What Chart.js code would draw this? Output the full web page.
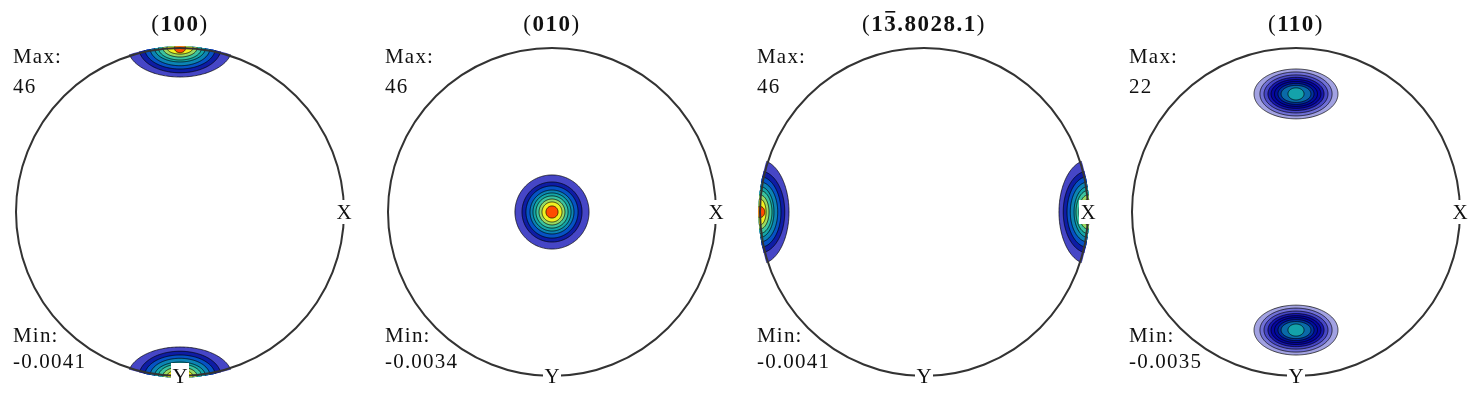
<!DOCTYPE html>
<html>
<head>
<meta charset="utf-8">
<script src="https://cdn.jsdelivr.net/npm/chart.js@4/dist/chart.umd.min.js"></script>
<style>
  html, body { margin: 0; padding: 0; background: #fff; overflow: hidden; }
  .panel { position: absolute; top: 0; width: 372px; height: 398px; }
</style>
</head>
<body>
<div class="panel" style="left:0px"><canvas id="pf0" width="372" height="398"></canvas></div>
<div class="panel" style="left:372px"><canvas id="pf1" width="372" height="398"></canvas></div>
<div class="panel" style="left:744px"><canvas id="pf2" width="372" height="398"></canvas></div>
<div class="panel" style="left:1116px"><canvas id="pf3" width="372" height="398"></canvas></div>
<script>
// pole figure titles (Miller indices), bar = overlined digit
const titles = [
  [{ t: '100' }],
  [{ t: '010' }],
  [{ t: '1' }, { t: '3', bar: true }, { t: '.8028.1' }],
  [{ t: '110' }]
];
const maxLabels = ['46', '46', '46', '22'];
const minLabels = ['-0.0041', '-0.0034', '-0.0041', '-0.0035'];

// peak positions on the unit disk (x right, y up)
const poleCenters = [
  [[0, 1], [0, -1]],
  [[0, 0]],
  [[-1, 0], [1, 0]],
  [[0, 0.72], [0, -0.72]]
];

// contour half-axes, outermost level first
const radiiX = [
  [0.317, 0.25, 0.216, 0.183, 0.155, 0.131, 0.104, 0.079, 0.034],
  [0.226, 0.183, 0.159, 0.134, 0.116, 0.098, 0.079, 0.061, 0.037],
  [0.177, 0.151, 0.128, 0.108, 0.085, 0.073, 0.055, 0.037, 0.029],
  [0.256, 0.22, 0.195, 0.171, 0.152, 0.131, 0.11, 0.091, 0.049]
];
const radiiY = [
  [0.177, 0.151, 0.128, 0.108, 0.085, 0.073, 0.055, 0.037, 0.029],
  [0.226, 0.183, 0.159, 0.134, 0.116, 0.098, 0.079, 0.061, 0.037],
  [0.317, 0.25, 0.216, 0.183, 0.155, 0.131, 0.104, 0.079, 0.034],
  [0.152, 0.134, 0.116, 0.101, 0.088, 0.076, 0.064, 0.052, 0.037]
];

const hotLevels = ['#4646c6', '#0e1ca4', '#0652c4', '#0c84b4', '#14a6a8', '#3cc4a0', '#9ada62', '#f2f020', '#ff4c00'];
const coolLevels = ['#a2a2e2', '#7070d6', '#4646c6', '#1616ae', '#0606a0', '#000e9c', '#00329e', '#0a6aa8', '#14a2aa'];
const panelLevels = [hotLevels, hotLevels, hotLevels, coolLevels];

const R = 164, CX = 180, CY = 212, SPAN = 1.06;
const serif = '"Liberation Serif", "Times New Roman", serif';

function ellipse(cx, cy, rx, ry) {
  const pts = [];
  const n = 120;
  for (let i = 0; i <= n; i++) {
    const a = i / n * 2 * Math.PI;
    pts.push({ x: cx + rx * Math.cos(a), y: cy + ry * Math.sin(a) });
  }
  return pts;
}

function drawTitle(ctx, parts, cx, y) {
  const pieces = [{ t: '(', f: `23px ${serif}` }]
    .concat(parts.map(p => ({ t: p.t, f: `bold 23px ${serif}`, bar: p.bar })))
    .concat([{ t: ')', f: `23px ${serif}` }]);
  ctx.letterSpacing = '1.5px';
  let w = 0;
  pieces.forEach(p => { ctx.font = p.f; p.w = ctx.measureText(p.t).width; w += p.w; });
  let x = cx - w / 2;
  ctx.textAlign = 'left';
  pieces.forEach(p => {
    ctx.font = p.f;
    ctx.fillText(p.t, x, y);
    if (p.bar) ctx.fillRect(x + 1, y - 20, p.w - 3, 1.6);
    x += p.w;
  });
}

const polePlugin = {
  id: 'pole',
  beforeDatasetsDraw(chart) {
    const { ctx, scales: { x, y } } = chart;
    const cx = x.getPixelForValue(0), cy = y.getPixelForValue(0);
    const r = x.getPixelForValue(1) - cx;
    ctx.save();
    ctx.beginPath();
    ctx.arc(cx, cy, r * 1.01, 0, 2 * Math.PI);
    ctx.clip();
  },
  afterDatasetsDraw(chart, args, opts) {
    const { ctx, scales: { x, y } } = chart;
    ctx.restore();
    const cx = x.getPixelForValue(0), cy = y.getPixelForValue(0);
    const r = x.getPixelForValue(1) - cx;

    ctx.save();
    ctx.beginPath();
    ctx.arc(cx, cy, r, 0, 2 * Math.PI);
    ctx.strokeStyle = '#333333';
    ctx.lineWidth = 2;
    ctx.stroke();

    // axis labels on white boxes
    ctx.fillStyle = '#fff';
    ctx.fillRect(cx + r - 9, cy - 12, 18, 24);
    ctx.fillRect(cx - 9, cy + r - 13, 18, 24);
    ctx.fillStyle = '#111';
    ctx.font = `21px ${serif}`;
    ctx.textAlign = 'center';
    ctx.textBaseline = 'middle';
    ctx.fillText('X', cx + r, cy + 1);
    ctx.fillText('Y', cx, cy + r + 1);

    ctx.textBaseline = 'alphabetic';
    drawTitle(ctx, opts.title, cx, cy - 181);

    ctx.font = `21px ${serif}`;
    ctx.letterSpacing = '1.2px';
    ctx.textAlign = 'left';
    const lx = cx - r - 3;
    ctx.fillText('Max:', lx, cy - 149);
    ctx.fillText(opts.max, lx, cy - 119);
    ctx.fillText('Min:', lx, cy + 130);
    ctx.fillText(opts.min, lx, cy + 156);
    ctx.restore();
  }
};

titles.forEach((title, p) => {
  const levels = panelLevels[p];
  const datasets = [];
  poleCenters[p].forEach(([px, py]) => {
    levels.forEach((color, k) => {
      datasets.push({
        data: ellipse(px, py, radiiX[p][k], radiiY[p][k]),
        showLine: true,
        fill: 'shape',
        backgroundColor: color,
        borderColor: '#000',
        borderWidth: 0.7,
        pointRadius: 0,
        tension: 0.2,
        order: levels.length - k,
        clip: 12
      });
    });
  });

  const half = R * SPAN;
  new Chart(document.getElementById('pf' + p), {
    type: 'scatter',
    data: { datasets },
    options: {
      responsive: false,
      animation: false,
      events: [],
      layout: {
        padding: { left: CX - half, right: 372 - CX - half, top: CY - half, bottom: 398 - CY - half }
      },
      scales: {
        x: { type: 'linear', min: -SPAN, max: SPAN, display: false },
        y: { type: 'linear', min: -SPAN, max: SPAN, display: false }
      },
      plugins: {
        legend: { display: false },
        tooltip: { enabled: false },
        pole: { title, max: maxLabels[p], min: minLabels[p] }
      }
    },
    plugins: [polePlugin]
  });
});
</script>
</body>
</html>
